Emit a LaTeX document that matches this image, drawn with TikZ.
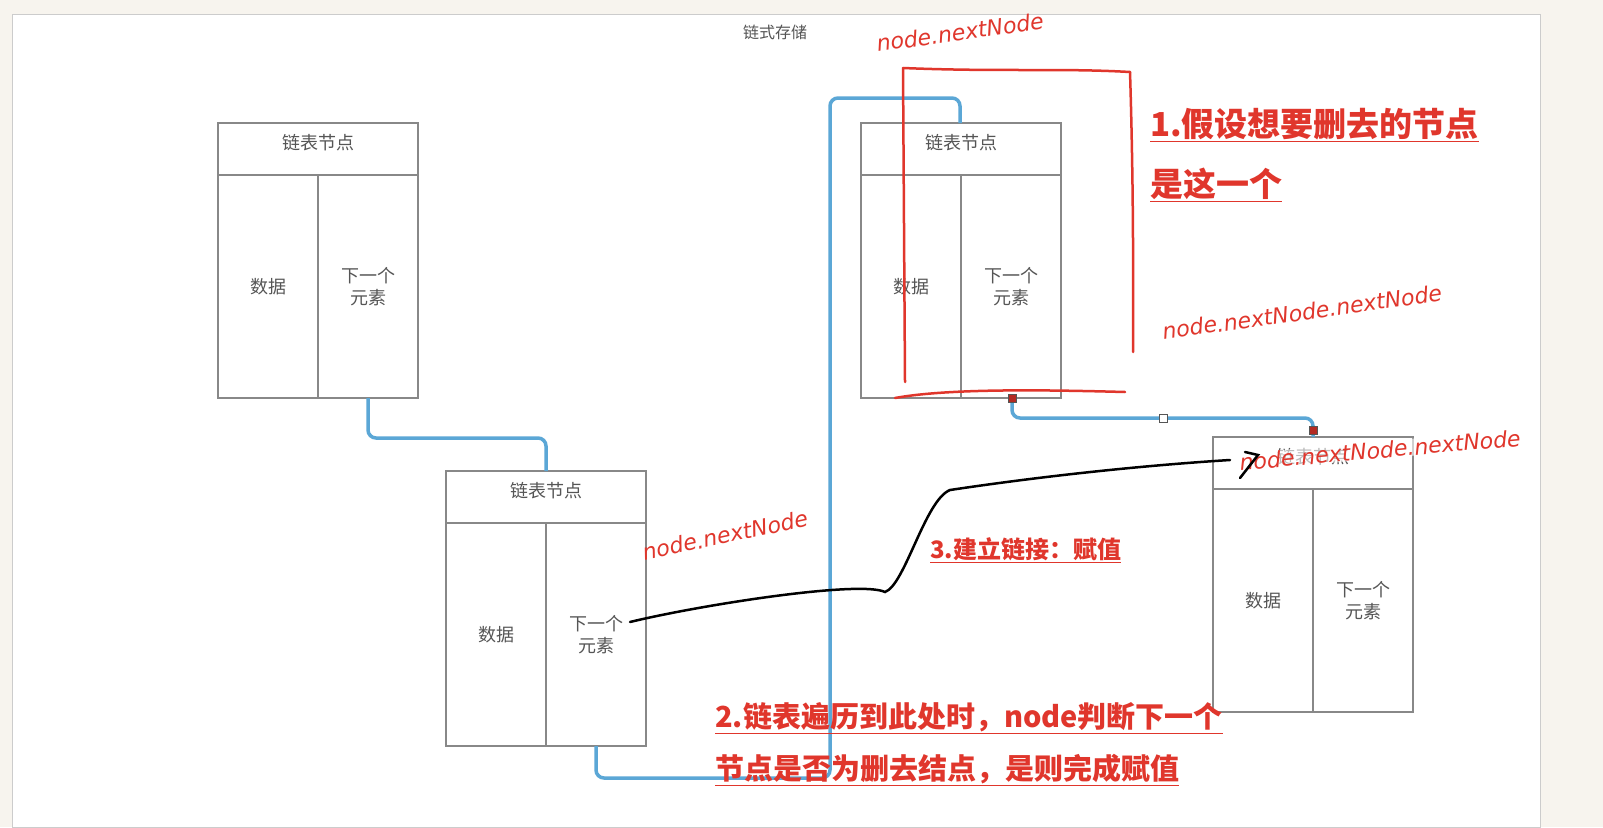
\documentclass[tikz,border=0pt]{standalone}
\usepackage{fontspec}
\setmainfont{Noto Sans CJK SC}
\newfontfamily\hand{DejaVu Sans}
\usetikzlibrary{arrows.meta}
\definecolor{bg}{HTML}{F7F4EE}
\definecolor{bl}{HTML}{5BA7D6}
\definecolor{rd}{HTML}{E0362C}
\definecolor{gr}{HTML}{555555}
\tikzset{
 box/.style={draw=gr!70,line width=1.2pt},
 lbl/.style={text=gr,font=\fontsize{18}{22}\selectfont,align=center},
 link/.style={draw=bl,line width=3.5pt,rounded corners=8pt},
 rtxt/.style={text=rd,font=\fontsize{33}{38}\selectfont\bfseries,anchor=west,inner sep=0pt},
 hw/.style={text=rd,font=\hand\itshape\fontsize{22}{26}\selectfont,inner sep=0pt},
 rl/.style={draw=rd,line width=2.5pt,line cap=round}
}
\newcommand{\lnode}[3]{% name, x, y (top-left)
 \draw[box,fill=white] (#2,#3) rectangle ++(200,275);
 \draw[box] (#2,#3+52) -- ++(200,0);
 \draw[box] (#2+100,#3+52) -- ++(0,223);
 \node[lbl] (#1h) at (#2+100,#3+20) {链表节点};
 \node[lbl] (#1d) at (#2+50,#3+164) {数据};
 \node[lbl] (#1n) at (#2+150,#3+164) {下一个\\元素};
 \coordinate (#1t) at (#2+100,#3);
 \coordinate (#1b) at (#2+150,#3+275);
}
\begin{document}
\begin{tikzpicture}[x=1pt,y=-1pt]
\useasboundingbox (0,0) rectangle (1603,827);
\fill[bg] (0,0) rectangle (1603,827);
\fill[white] (12,14) rectangle (1540,827);
\draw[gr!30] (12,14) rectangle (1540,827);
\node[text=gr,font=\fontsize{16}{18}\selectfont] (title) at (775,32) {链式存储};
\lnode{A}{218}{123}
\lnode{B}{446}{471}
\lnode{C}{861}{123}
\lnode{D}{1213}{437}
\draw[link] (368,398) -- (368,438) -- (546,438) -- (546,471);
\draw[link] (596,746) -- (596,778) -- (830,778) -- (830,98) -- (960,98) -- (960,123);
\draw[link] (1012,398) -- (1012,418) -- (1313,418) -- (1313,437);
\draw[fill=rd!80!black,draw=gr] (1008,394) rectangle (1016,402);
\draw[fill=white,draw=gr,line width=1pt] (1159,414) rectangle (1167,422);
\draw[fill=rd!80!black,draw=gr] (1309,426) rectangle (1317,434);
% red handdrawn box
\draw[rl] (903,68) .. controls (1000,72) and (1060,68) .. (1130,72);
\draw[rl] (903,68) -- (905,382);
\draw[rl] (1130,72) .. controls (1134,200) and (1133,300) .. (1133,352);
\draw[rl] (895,398) .. controls (950,388) and (1050,390) .. (1125,392);
% red texts
\node[hw,rotate=8] (t1) at (960,32) {node.nextNode};
\node[rtxt] (s1a) at (1150,125) {\underline{1.假设想要删去的节点}};
\node[rtxt] (s1b) at (1150,185) {\underline{是这一个}};
\node[hw,rotate=8] (t2) at (1302,312) {node.nextNode.nextNode};
\node[hw,rotate=5,fill=white,fill opacity=0.6,text opacity=1] (t3) at (1380,450) {node.nextNode.nextNode};
\node[hw,rotate=12] (t4) at (725,535) {node.nextNode};
\node[rtxt,font=\fontsize{24}{28}\selectfont\bfseries] (s3) at (930,550) {\underline{3.建立链接：赋值}};
\node[rtxt,font=\fontsize{29}{34}\selectfont\bfseries] (s2a) at (715,718) {\underline{2.链表遍历到此处时，node判断下一个}};
\node[rtxt,font=\fontsize{29}{34}\selectfont\bfseries] (s2b) at (715,770) {\underline{节点是否为删去结点，是则完成赋值}};
% black curve
\coordinate (e) at (1258,455);
\draw[line width=2.5pt,line cap=round] (630,622) .. controls (700,605) and (860,580) .. (885,592) .. controls (905,585) and (925,500) .. (950,490) .. controls (1050,475) and (1150,465) .. (1230,460);
\draw[line width=2.5pt,line cap=round] (1240,478) -- (e) -- (1245,452);
\end{tikzpicture}
\end{document}
